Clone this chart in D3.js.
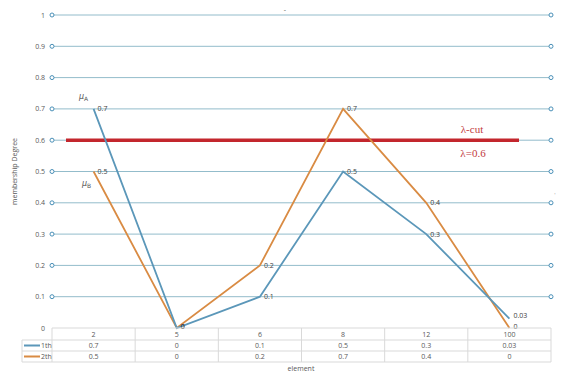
<!DOCTYPE html>
<html><head><meta charset="utf-8">
<script src="https://cdn.jsdelivr.net/npm/d3@7"></script>
<style>body{margin:0;background:#fff}svg{display:block}</style>
</head><body>
<svg id="c" width="567" height="381"></svg>
<script>
const categories = ["2","5","6","8","12","100"];
const series1 = [0.7,0,0.1,0.5,0.3,0.03];
const series2 = [0.5,0,0.2,0.7,0.4,0];
const seriesNames = ["1th","2th"];
const yTicks = [0,0.1,0.2,0.3,0.4,0.5,0.6,0.7,0.8,0.9,1];
const cutValue = 0.6;

const svg = d3.select("#c");
const pLeft = 52, pRight = 551, pTop = 15, pBottom = 328;
const x = d3.scaleBand().domain(categories).range([pLeft, pRight]);
const y = d3.scaleLinear().domain([0,1]).range([pBottom, pTop]);
const blue = "#5b97b9", orange = "#d98b43", grid = "#93bccb", tc = "#595959";

// gridlines
yTicks.forEach(t => {
  if (t === 0) return;
  svg.append("line").attr("x1", pLeft).attr("x2", pRight).attr("y1", y(t)).attr("y2", y(t))
    .attr("stroke", grid).attr("stroke-width", 1);
  [pLeft, pRight].forEach(cx => svg.append("circle").attr("cx", cx).attr("cy", y(t)).attr("r", 2)
    .attr("fill", "#fff").attr("stroke", "#4a90b8").attr("stroke-width", 1));
});
// y tick labels
svg.append("g").selectAll("text").data(yTicks).join("text")
  .attr("x", 45).attr("y", d => y(d) + 2.5).attr("text-anchor", "end")
  .attr("font-family", "Open Sans, sans-serif").attr("font-size", 7).attr("fill", tc)
  .text(d => d);

// y title
svg.append("text").attr("transform", `translate(17,${(pTop+pBottom)/2}) rotate(-90)`)
  .attr("text-anchor", "middle").attr("font-family", "Open Sans, sans-serif").attr("font-size", 7)
  .attr("fill", tc).text("membership Degree");

// lambda cut line
svg.append("line").attr("x1", 66).attr("x2", 519).attr("y1", y(cutValue)).attr("y2", y(cutValue))
  .attr("stroke", "#c3262d").attr("stroke-width", 3.5);
svg.append("text").attr("x", 472).attr("y", 133).attr("text-anchor", "middle")
  .attr("font-family", "Liberation Serif, serif").attr("font-size", 11).attr("fill", "#c23a40").text("λ-cut");
svg.append("text").attr("x", 473).attr("y", 157).attr("text-anchor", "middle")
  .attr("font-family", "Liberation Serif, serif").attr("font-size", 11).attr("fill", "#c23a40").text("λ=0.6");

// lines
const line = d3.line().x((d,i) => x(categories[i]) + x.bandwidth()/2).y(d => y(d));
[[series2, orange],[series1, blue]].forEach(([s,c]) => {
  svg.append("path").attr("d", line(s)).attr("fill", "none").attr("stroke", c).attr("stroke-width", 1.8);
});
// data labels
[series1, series2].forEach((s, si) => {
  svg.append("g").selectAll("text").data(s).join("text")
    .attr("x", (d,i) => x(categories[i]) + x.bandwidth()/2 + 4)
    .attr("y", (d,i) => {
      let yy = y(d) + 2.5;
      if (i === 5) yy = si === 0 ? y(d) - 1 : y(d) + 1;
      if (i === 1) yy = y(d) + 1;
      return yy;
    })
    .attr("font-family", "Open Sans, sans-serif").attr("font-size", 7).attr("fill", "#404040")
    .text(d => d);
});

// mu labels
function mu(xp, yp, sub) {
  const t = svg.append("text").attr("x", xp).attr("y", yp).attr("font-family", "DejaVu Sans, sans-serif")
    .attr("font-size", 8).attr("fill", "#555");
  t.append("tspan").attr("font-style", "italic").text("μ");
  t.append("tspan").attr("font-size", 6).attr("dy", 2).text(sub);
}
mu(79, 99, "A");
mu(82, 186, "B");

// table
const rowY = [328, 340, 351, 362];
const tg = "#d9d9d9";
svg.append("line").attr("x1", pLeft).attr("x2", pRight).attr("y1", rowY[0]).attr("y2", rowY[0]).attr("stroke", tg);
[1,2,3].forEach(r => svg.append("line").attr("x1", 22).attr("x2", pRight).attr("y1", rowY[r]).attr("y2", rowY[r]).attr("stroke", tg));
categories.forEach((c) => {
  svg.append("line").attr("x1", x(c)).attr("x2", x(c)).attr("y1", rowY[0]).attr("y2", rowY[3]).attr("stroke", tg);
});
svg.append("line").attr("x1", pRight).attr("x2", pRight).attr("y1", rowY[0]).attr("y2", rowY[3]).attr("stroke", tg);
svg.append("line").attr("x1", 22).attr("x2", 22).attr("y1", rowY[1]).attr("y2", rowY[3]).attr("stroke", tg);

svg.append("g").selectAll("text").data(categories).join("text")
  .attr("x", d => x(d) + x.bandwidth()/2).attr("y", 337).attr("text-anchor", "middle")
  .attr("font-family", "Open Sans, sans-serif").attr("font-size", 7).attr("fill", tc).text(d => d);
[[series1, blue, 0],[series2, orange, 1]].forEach(([s,c,r]) => {
  const cy = (rowY[r+1] + rowY[r+2]) / 2;
  svg.append("line").attr("x1", 24).attr("x2", 40).attr("y1", cy).attr("y2", cy).attr("stroke", c).attr("stroke-width", 2);
  svg.append("text").attr("x", 41).attr("y", cy + 2.5).attr("font-family", "Open Sans, sans-serif")
    .attr("font-size", 7).attr("fill", tc).text(seriesNames[r]);
  svg.append("g").selectAll("text").data(s).join("text")
    .attr("x", (d,i) => x(categories[i]) + x.bandwidth()/2).attr("y", cy + 2.5).attr("text-anchor", "middle")
    .attr("font-family", "Open Sans, sans-serif").attr("font-size", 7).attr("fill", tc).text(d => d);
});
svg.append("text").attr("x", 301).attr("y", 371).attr("text-anchor", "middle")
  .attr("font-family", "Open Sans, sans-serif").attr("font-size", 7).attr("fill", tc).text("element");
// small stray marks
svg.append("text").attr("x", 285).attr("y", 12).attr("text-anchor", "middle")
  .attr("font-family", "Open Sans, sans-serif").attr("font-size", 7).attr("fill", tc).text("-");
svg.append("text").attr("x", 555).attr("y", 197).attr("text-anchor", "middle")
  .attr("font-family", "Open Sans, sans-serif").attr("font-size", 6).attr("fill", "#999").text("'");
</script>
</body></html>
